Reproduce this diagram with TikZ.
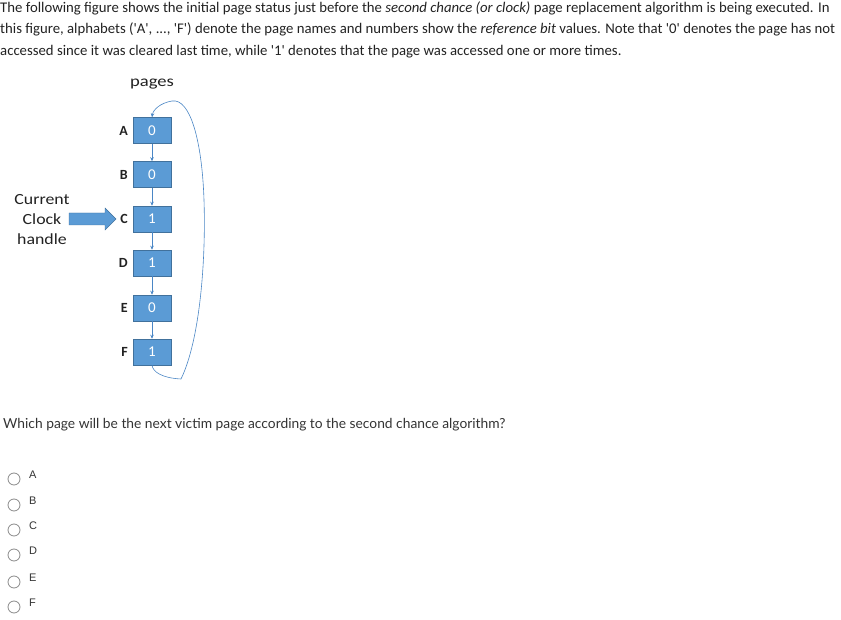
\documentclass[tikz,border=0pt]{standalone}
\usepackage{fontspec}
\usepackage{graphicx}
\setmainfont{Carlito}
\newfontfamily\qfont{Lato}
\newfontfamily\optfont{Liberation Sans}
\usetikzlibrary{arrows.meta}
\newcommand\myq{\textquotesingle}
\definecolor{pblue}{HTML}{5B9BD5}
\definecolor{pborder}{HTML}{41719C}
\definecolor{lblue}{HTML}{4A86C5}
\definecolor{txt}{HTML}{222222}
\definecolor{qtxt}{HTML}{333333}
\definecolor{radio}{HTML}{8A8A8A}
\tikzset{
  pagebox/.style={draw=pborder, line width=0.5pt, fill=pblue, minimum width=38pt, minimum height=26pt, inner sep=0pt, text=white, font=\fontsize{15}{15}\selectfont},
  pagelbl/.style={anchor=east, inner sep=0pt, font=\bfseries\fontsize{14}{14}\selectfont, text=txt},
  link/.style={draw=lblue, line width=0.6pt, -{Stealth[length=4pt,width=3.5pt]}},
  para/.style={anchor=base west, inner sep=0pt, font=\fontsize{14.75}{14.75}\selectfont, text=txt},
  handle/.style={align=center, inner sep=0pt, font=\fontsize{15.5}{20}\selectfont, text=txt},
  radiobtn/.style={circle, draw=radio, line width=0.8pt, minimum size=12pt, inner sep=0pt},
  opt/.style={anchor=base west, inner sep=0pt, font=\optfont\fontsize{11}{11}\selectfont, text=qtxt}
}
\begin{document}
\begin{tikzpicture}[x=1pt,y=-1pt]
\useasboundingbox (0,0) rectangle (841,620);
% paragraph
\node[para] (l1) at (0,12.5) {The following figure shows the initial page status just before the \textit{second chance (or clock)} page replacement algorithm is being executed. In};
\node[para] (l2) at (0,34) {this figure, alphabets (\myq A\myq, ..., \myq F\myq) denote the page names and numbers show the \textit{reference bit} values. Note that \myq 0\myq{} denotes the page has not};
\node[para] (l3) at (0,55.5) {accessed since it was cleared last time, while \myq 1\myq{} denotes that the page was accessed one or more times.};
% diagram
\node[inner sep=0pt, anchor=base, font=\fontsize{15.5}{15.5}\selectfont, text=txt] (pages) at (152,87) {\scalebox{1.2}[1]{pages}};
\node[pagebox] (A) at (152,130.5) {0};
\node[pagebox] (B) at (152,174.5) {0};
\node[pagebox] (C) at (152,219) {1};
\node[pagebox] (D) at (152,263) {1};
\node[pagebox] (E) at (152,308) {0};
\node[pagebox] (F) at (152,352) {1};
\foreach \n in {A,B,C,D,E,F}{\node[pagelbl] (l\n) at (128,0 |- \n) {\n};}
\draw[link] (A.south) -- (B.north);
\draw[link] (B.south) -- (C.north);
\draw[link] (C.south) -- (D.north);
\draw[link] (D.south) -- (E.north);
\draw[link] (E.south) -- (F.north);
\draw[link] (F.south) .. controls (153,372) and (162,378) .. (181,379)
  .. controls (200,340) and (206,260) .. (204,200)
  .. controls (202,140) and (190,98) .. (172,101)
  .. controls (160,103) and (153,110) .. (A.north);
% clock handle
\node[handle] (cur) at (42,220) {\scalebox{1.15}[1]{Current}\\\scalebox{1.15}[1]{Clock}\\\scalebox{1.15}[1]{handle}};
\coordinate (tip) at (116,219);
\fill[pblue, draw=pborder, line width=0.4pt] (69,213) -- (105,213) -- (105,208) -- (tip) -- (105,230) -- (105,225) -- (69,225) -- cycle;
% question
\node[anchor=base west, inner sep=0pt, font=\qfont\fontsize{13.8}{13.8}\selectfont, text=qtxt] (q) at (3,428.5) {Which page will be the next victim page according to the second chance algorithm?};
\foreach \l/\y in {A/479,B/505,C/530,D/555,E/582,F/607}{
  \node[radiobtn] (r\l) at (14,\y) {};
  \node[opt] (o\l) at (29,\y-1) {\l};
}
\end{tikzpicture}
\end{document}
